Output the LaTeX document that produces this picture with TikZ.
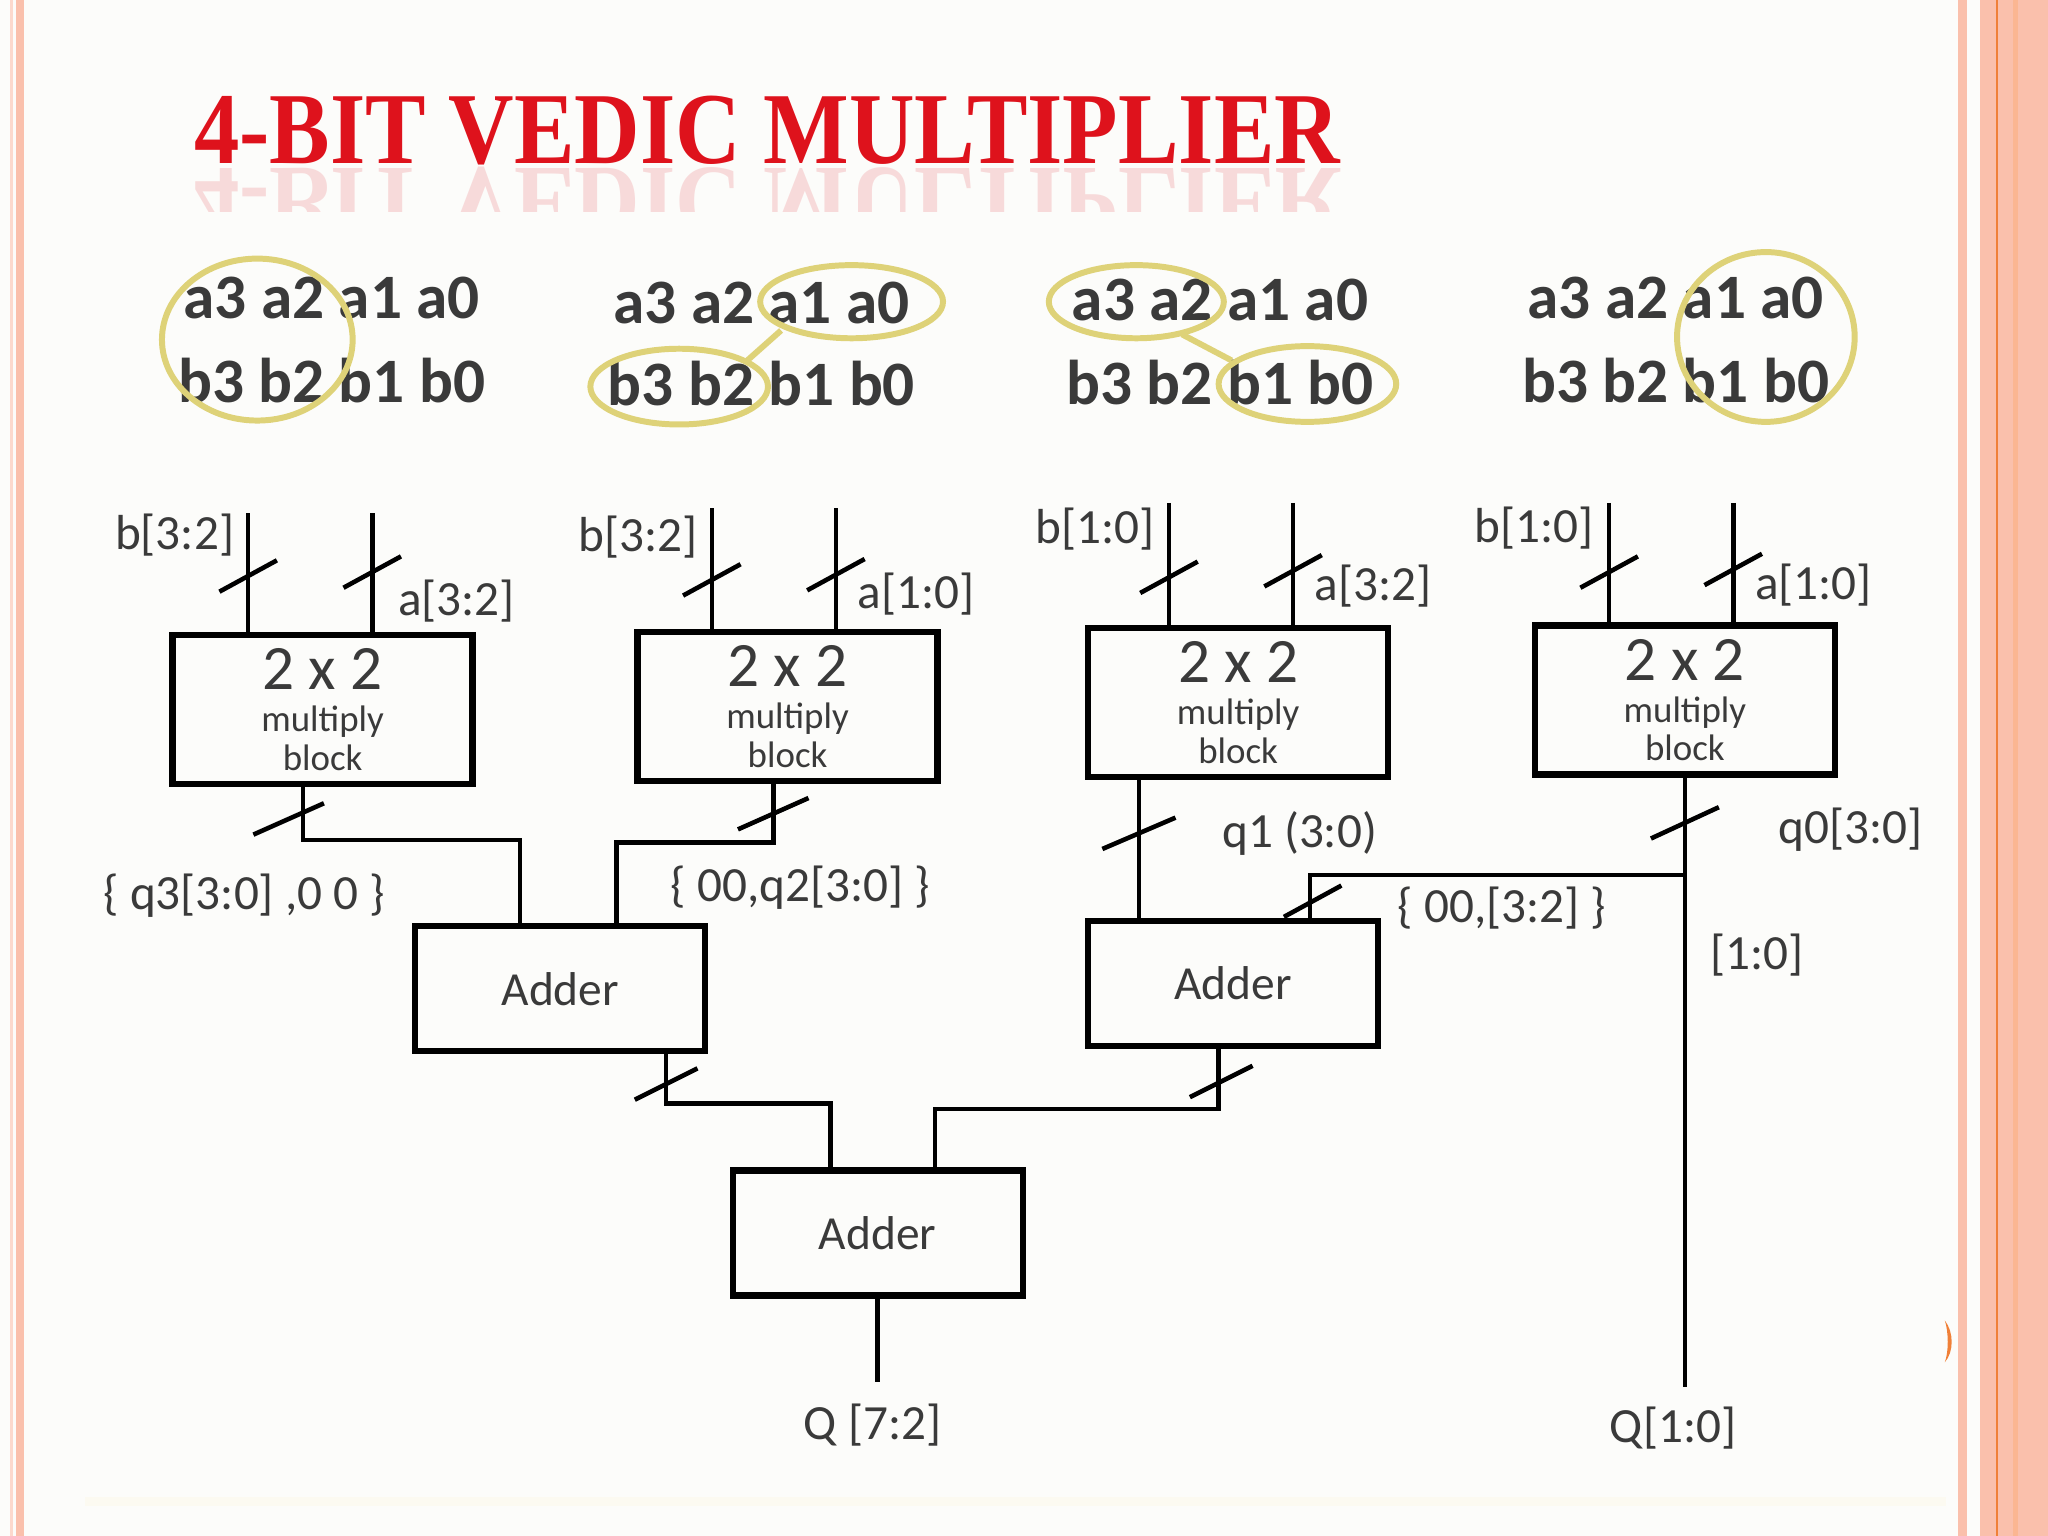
\documentclass[tikz,border=0pt]{standalone}
\usepackage{fontspec}
\setmainfont{Carlito}
\newfontfamily\titlefont{Liberation Serif}
\usetikzlibrary{calc}

\definecolor{ringcol}{RGB}{222,210,120}
\definecolor{titlered}{RGB}{222,18,28}
\definecolor{txtgray}{RGB}{58,58,58}
\definecolor{pagecol}{RGB}{252,252,250}
\definecolor{borderpink}{RGB}{250,192,172}
\definecolor{borderorange}{RGB}{240,128,56}

% text inside a 2x2 block
\newcommand{\multtext}{{\fontsize{18}{18}\selectfont 2 x 2}\\[1pt] multiply\\ block}
% bus width mark on a line
\newcommand{\busmark}[2][22]{\draw (#2) ++(-#1,12) -- ++({2*#1},-24);}

\begin{document}
\begin{tikzpicture}[x=0.013061cm, y=-0.013061cm, line width=1.3pt]
    \tikzstyle{mult}=[draw, line width=1.8pt, minimum width=3.0cm, minimum height=1.49cm, align=center, inner sep=0pt, text=txtgray, font=\fontsize{10.5}{11}\selectfont]
    \tikzstyle{adder}=[draw, line width=1.8pt, minimum width=2.9cm, minimum height=1.25cm, text=txtgray, font=\fontsize{13.5}{15}\selectfont]
    \tikzstyle{lbl}=[inner sep=0pt, text=txtgray, font=\fontsize{14}{16}\selectfont]
    \tikzstyle{bits}=[inner sep=0pt, text=txtgray, font=\fontsize{18}{20}\selectfont\bfseries]
    \tikzstyle{ring}=[draw=ringcol, line width=1.7pt]

    \useasboundingbox (0,0) rectangle (1568,1176);

    % page and border
    \fill[pagecol] (0,0) rectangle (1568,1176);
    \fill[borderpink!60] (7.7,0) rectangle (10,1176);
    \fill[borderpink] (12.3,0) rectangle (18.4,1176);
    \fill[borderpink] (1499,0) rectangle (1506,1176);
    \fill[borderpink] (1516,0) rectangle (1568,1176);
    \fill[borderpink!85!orange] (1541,0) rectangle (1545,1176);
    \draw[borderorange, line width=0.8pt] (1529,0) -- (1529,1176);
    \fill[borderorange] (1489,1011) .. controls (1496,1020) and (1496,1035) .. (1489,1043) .. controls (1492,1035) and (1492,1020) .. (1489,1011);
    \fill[ringcol!10] (65,1146) rectangle (1490,1153);

    % title
    \node[anchor=base west, inner sep=0pt, text=titlered, font=\titlefont\bfseries\fontsize{29}{30}\selectfont] (title) at (147,125) {\scalebox{0.89}[1]{4-BIT VEDIC MULTIPLIER}};
    \begin{scope}
      \clip (140,127) rectangle (1040,162);
      \node[anchor=base west, inner sep=0pt, text=titlered, opacity=0.14, font=\titlefont\bfseries\fontsize{29}{30}\selectfont] (titlemirror) at (147,129) {\scalebox{0.89}[-1]{4-BIT VEDIC MULTIPLIER}};
    \end{scope}

    % bit groups
    \node[bits] (arow3) at (254,228) {a3 a2 a1 a0};
    \node[bits] (brow3) at (254,291) {b3 b2 b1 b0};
    \node[bits] (arow2) at (583,232) {a3 a2 a1 a0};
    \node[bits] (brow2) at (583,294) {b3 b2 b1 b0};
    \node[bits] (arow1) at (934,230) {a3 a2 a1 a0};
    \node[bits] (brow1) at (934,293) {b3 b2 b1 b0};
    \node[bits] (arow0) at (1283,228) {a3 a2 a1 a0};
    \node[bits] (brow0) at (1283,291) {b3 b2 b1 b0};

    \draw[ring] (197,260) ellipse [x radius=73, y radius=62];
    \draw[ring] (652,231) ellipse [x radius=70, y radius=28];
    \draw[ring] (520,296) ellipse [x radius=68, y radius=29];
    \draw[ring] (598,253) -- (571,277);
    \draw[ring] (870,231) ellipse [x radius=67, y radius=28];
    \draw[ring] (1001,294) ellipse [x radius=68, y radius=29];
    \draw[ring] (905,256) -- (943,276);
    \draw[ring] (1352,258) ellipse [x radius=68, y radius=65];

    % multiply blocks and adders
    \node[mult] (m3) at (247,543) {\multtext};
    \node[mult] (m2) at (603,541) {\multtext};
    \node[mult] (m1) at (948,538) {\multtext};
    \node[mult] (m0) at (1290,536) {\multtext};
    \node[adder] (add1) at (429,757) {Adder};
    \node[adder] (add2) at (944,753) {Adder};
    \node[adder] (add3) at (672,944) {Adder};

    % inputs
    \coordinate (b3in) at (190,393);
    \coordinate (a3in) at (285,393);
    \coordinate (b2in) at (545,389);
    \coordinate (a2in) at (640,389);
    \coordinate (b1in) at (895,385);
    \coordinate (a1in) at (990,385);
    \coordinate (b0in) at (1232,385);
    \coordinate (a0in) at (1327,385);
    \draw (b3in) -- (b3in |- m3.north);
    \draw (a3in) -- (a3in |- m3.north);
    \draw (b2in) -- (b2in |- m2.north);
    \draw (a2in) -- (a2in |- m2.north);
    \draw (b1in) -- (b1in |- m1.north);
    \draw (a1in) -- (a1in |- m1.north);
    \draw (b0in) -- (b0in |- m0.north);
    \draw (a0in) -- (a0in |- m0.north);
    \busmark{190,441} \busmark{285,438}
    \busmark{545,444} \busmark{640,440}
    \busmark{895,442} \busmark{990,437}
    \busmark{1232,438} \busmark{1327,436}

    \node[lbl, anchor=east] (lb3) at (181,410) {b[3:2]};
    \node[lbl, anchor=west] (la3) at (303,460) {a[3:2]};
    \node[lbl, anchor=east] (lb2) at (536,411) {b[3:2]};
    \node[lbl, anchor=west] (la2) at (655,455) {a[1:0]};
    \node[lbl, anchor=east] (lb1) at (886,405) {b[1:0]};
    \node[lbl, anchor=west] (la1) at (1005,449) {a[3:2]};
    \node[lbl, anchor=east] (lb0) at (1222,404) {b[1:0]};
    \node[lbl, anchor=west] (la0) at (1342,448) {a[1:0]};

    % partial products into the adders
    \draw (m3.south -| 232,0) |- (398,643) -- (add1.north -| 398,0);
    \draw (m2.south -| 592,0) |- (472,645) -- (add1.north -| 472,0);
    \draw (m1.south -| 872,0) -- (add2.north -| 872,0);
    \coordinate (q0end) at (1290,1062);
    \draw (m0.south) -- (q0end);
    \draw (m0.south |- 0,670) -| (add2.north -| 1003,0);
    \busmark[27]{221,627} \busmark[27]{592,623}
    \busmark[28]{872,638} \busmark[26]{1290,630}
    \busmark[22]{1005,690}

    \node[lbl] (q3lbl) at (187,686) {\{ q3[3:0] ,0 0 \}};
    \node[lbl] (q2lbl) at (613,680) {\{ 00,q2[3:0] \}};
    \node[lbl] (q1lbl) at (995,638) {q1 (3:0)};
    \node[lbl] (q0lbl) at (1417,635) {q0[3:0]};
    \node[lbl] (q0hi) at (1150,695) {\{ 00,[3:2] \}};
    \node[lbl] (q0lo) at (1345,731) {[1:0]};

    % sums into the last adder
    \draw (add1.south -| 510,0) |- (636,845) -- (add3.north -| 636,0);
    \draw (add2.south -| 933,0) |- (716,849) -- (add3.north -| 716,0);
    \busmark[24]{510,830} \busmark[24]{935,828}
    \coordinate (qhiend) at (672,1058);
    \draw (add3.south) -- (qhiend);

    \node[lbl] (Qhi) at (668,1091) {Q [7:2]};
    \node[lbl] (Qlo) at (1281,1093) {Q[1:0]};
\end{tikzpicture}
\end{document}
